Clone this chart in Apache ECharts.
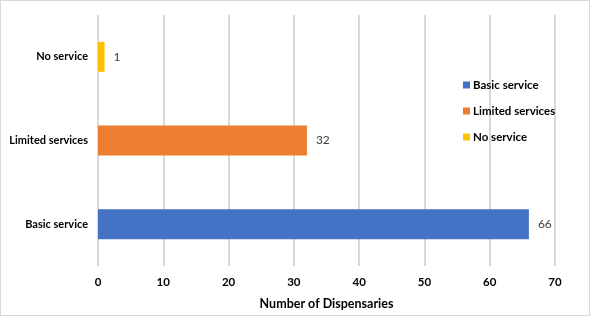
<!DOCTYPE html>
<html><head><meta charset="utf-8">
<script src="https://cdn.jsdelivr.net/npm/echarts@6/dist/echarts.min.js"></script>
<style>html,body{margin:0;padding:0;background:#fff}#c{width:588px;height:314px;border:1px solid #d9d9d9}</style>
</head><body><div id="c"></div>
<script>
const categories = ['Basic service', 'Limited services', 'No service'];
const values = [66, 32, 1];
const colors = ['#4472C4', '#ED7D31', '#FFC000'];
const xTicks = [0, 70, 10];

const chart = echarts.init(document.getElementById('c'), null, {renderer: 'canvas'});
const font = 'Lato, "Noto Sans", sans-serif';
const series = categories.map((name, i) => ({
  name: name,
  type: 'bar',
  stack: 'all',
  barWidth: 30,
  itemStyle: {color: colors[i]},
  label: {show: true, position: 'right', distance: 9, color: '#404040', fontSize: 12, fontFamily: font},
  data: categories.map((c, j) => j === i ? values[i] : null)
}));
chart.setOption({
  animation: false,
  textStyle: {fontFamily: font},
  grid: {left: 97, right: 34, top: 14, bottom: 47, containLabel: false},
  legend: {
    orient: 'vertical', left: 457, top: 73, itemGap: 14,
    itemWidth: 7, itemHeight: 7, icon: 'rect',
    textStyle: {fontSize: 11.5, fontWeight: 'bold', color: '#000', fontFamily: font, padding: [0,0,0,-2]},
    data: categories
  },
  xAxis: {
    type: 'value', min: xTicks[0], max: xTicks[1], interval: xTicks[2],
    name: 'Number of Dispensaries', nameLocation: 'middle', nameGap: 31,
    nameTextStyle: {fontSize: 12.5, fontWeight: 'bold', color: '#000', fontFamily: font},
    axisLine: {show: false}, axisTick: {show: false},
    axisLabel: {fontSize: 11.5, fontWeight: 'bold', color: '#000', margin: 10, fontFamily: font},
    splitLine: {lineStyle: {color: '#d9d9d9', width: 2}}
  },
  yAxis: {
    type: 'category', data: categories,
    axisLine: {show: false}, axisTick: {show: false},
    axisLabel: {fontSize: 11, fontWeight: 'bold', color: '#000', margin: 10, fontFamily: font}
  },
  series: series
});
</script></body></html>
